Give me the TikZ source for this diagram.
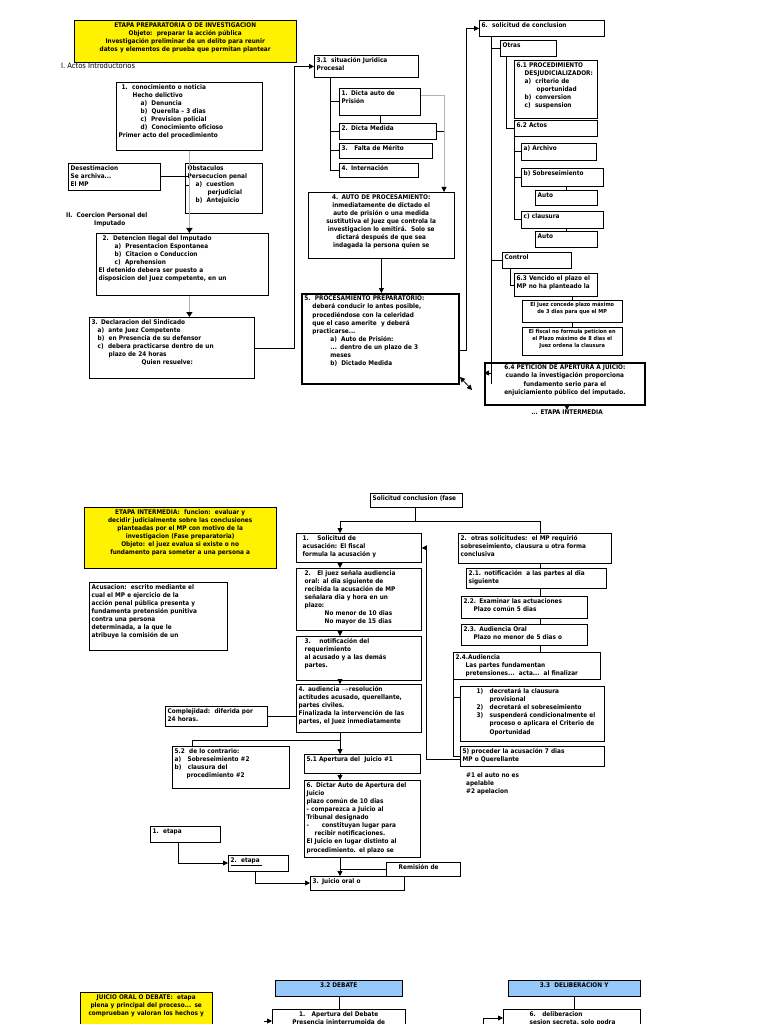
\documentclass[tikz,border=0pt]{standalone}
\usepackage{fontspec}
\setmainfont{DejaVu Sans Condensed}
\usetikzlibrary{arrows.meta,calc}
\tikzset{
 box/.style={draw,line width=0.8pt,inner sep=0pt},
 txt/.style={inner sep=0pt,align=left,font=\fontsize{6.4}{8.1}\selectfont\bfseries},
 yel/.style={fill=yellow},
 blu/.style={fill={rgb,255:red,150;green,200;blue,250}},
 thk/.style={line width=1.8pt},
 cen/.style={align=center},
 sml/.style={font=\fontsize{5.5}{7}\selectfont\bfseries},
 ln/.style={line width=0.8pt},
 arr/.style={line width=0.8pt,-{Triangle[length=5pt,width=5pt]}},
 garr/.style={line width=1.6pt,gray!60,-{Triangle[length=5pt,width=6pt,black]}},
 gln/.style={line width=1.6pt,gray!60},
}
\newcommand\bx[7][]{%
 \node[box,#1,minimum width={#5-#3},minimum height={#6-#4},anchor=north west] (#2) at (#3,#4) {};
 \pgfmathsetmacro\bxw{#5-#3-5}%
 \begin{scope}\clip (#3,#4) rectangle (#5,#6);
 \node[txt,#1,draw=none,text width=\bxw pt,anchor=north west] at ([xshift=2.5pt,yshift=-2.2pt]#2.north west) {#7};
 \end{scope}}
\newcommand\ind[1]{\hspace*{#1pt}}
\begin{document}
\begin{tikzpicture}[x=1pt,y=-1pt]
\useasboundingbox[fill=white] (0,0) rectangle (768,1024);
% ===== TOP =====
\bx[yel,cen]{yA}{74}{20}{296}{62}{ETAPA PREPARATORIA O DE INVESTIGACION\\Objeto:\ \ preparar la acción pública\\Investigación preliminar de un delito para reunir\\datos y elementos de prueba que permitan plantear}
\node[txt,font=\fontsize{7.5}{9}\selectfont,anchor=north west] (tAI) at (61,63) {I. Actos Introductorios};
\bx{b1}{116}{82}{262}{150}{\ind{3}1.\ \ conocimiento o noticia\\\ind{14}Hecho delictivo\\\ind{22}a)\ \ Denuncia\\\ind{22}b)\ \ Querella – 3 dias\\\ind{22}c)\ \ Prevision policial\\\ind{22}d)\ \ Conocimiento oficioso\\Primer acto del procedimiento}
\bx{bDes}{68}{163}{160}{190}{Desestimacion\\Se archiva...\\El MP}
\bx{bObs}{185}{163}{262}{213}{Obstaculos\\Persecucion penal\\\ind{8}a)\ \ cuestion\\\ind{20}perjudicial\\\ind{8}b)\ \ Antejuicio}
\node[txt,anchor=north west] (tII) at (64,212) {\ind{2}II.\ \ Coercion Personal del\\\ind{30}Imputado};
\bx{b2}{96}{233}{268}{295}{\ind{4}2.\ \ Detencion Ilegal del Imputado\\\ind{16}a)\ \ Presentacion Espontanea\\\ind{16}b)\ \ Citacion o Conduccion\\\ind{16}c)\ \ Aprehension\\El detenido debera ser puesto a\\disposicion del Juez competente, en un}
\bx{b3}{89}{317}{254}{378}{3. Declaracion del Sindicado\\\ind{6}a)\ \ ante Juez Competente\\\ind{6}b)\ \ en Presencia de su defensor\\\ind{6}c)\ \ debera practicarse dentro de un\\\ind{17}plazo de 24 horas\\\ind{50}Quien resuelve:}
\draw[gln] (b1.south) -- (bDes.east -| b1.south);
\draw[garr] (bDes.east -| b1.south) -- (b2.north -| b1.south);
\draw[ln] (bDes.east) -- (bDes.east -| b1.south);
\draw[ln] ($(bObs.west)+(0,-3)$) -- ($(bObs.west -| b1.south)+(0,-3)$);
\draw[garr] (b2.south -| b1.south) -- (b3.north -| b1.south);
% middle column
\bx{b31}{314}{55}{418}{77}{3.1\ \ situación Juridica\\Procesal}
\bx{bD1}{339}{88}{420}{115}{1. Dicta auto de\\Prisión}
\bx{bD2}{339}{123}{436}{139}{2. Dicta Medida}
\bx{bD3}{339}{143}{432}{158}{3.\ \ \ Falta de Mérito}
\bx{bD4}{339}{163}{418}{177}{4. Internación}
\bx[cen]{b4}{308}{192}{454}{258}{4. AUTO DE PROCESAMIENTO:\\inmediatamente de dictado el\\auto de prisión o una medida\\sustitutiva el Juez que controla la\\investigacion lo emitirá.\ \ Solo se\\dictará después de que sea\\indagada la persona quien se}
\bx[thk]{b5}{301}{293}{458}{383}{5.\ \ PROCESAMIENTO PREPARATORIO:\\\ind{8}deberá conducir lo antes posible,\\\ind{8}procediéndose con la celeridad\\\ind{8}que el caso amerite\ \ y deberá\\\ind{8}practicarse...\\\ind{26}a)\ \ Auto de Prisión:\\\ind{26}... dentro de un plazo de 3\\\ind{26}meses\\\ind{26}b)\ \ Dictado Medida}
\coordinate (c3a) at (294,348);
\draw[ln] (b3.east |- c3a) -- (c3a) -- (c3a |- b31.west);
\draw[arr] (c3a |- b31.west) -- (b31.west);
\coordinate (c31) at (330,77);
\draw[ln] (c31) -- (c31 |- bD4.west) -- (bD4.west);
\draw[ln] (c31 |- bD1.west) -- (bD1.west);
\draw[ln] (c31 |- bD2.west) -- (bD2.west);
\draw[ln] (c31 |- bD3.west) -- (bD3.west);
\draw[ln] (bD1.south) -- (bD2.north -| bD1.south);
\coordinate (cD) at (444,95);
\draw[gray!60,line width=0.8pt] (bD1.east |- cD) -- (cD);
\draw[gray!60,line width=0.8pt,-{Triangle[length=5pt,width=5pt,black]}] (cD) -- (cD |- b4.north);
\draw[ln] (bD2.east) -- (bD2.east -| cD);
\draw[arr] (b4.south) -- (b5.north -| b4.south);
% right column
\bx{b6}{479}{20}{604}{36}{6.\ \ solicitud de conclusion}
\coordinate (c5) at (466,350);
\draw[ln] (b5.east |- c5) -- (c5) -- (c5 |- b6.west);
\draw[arr] (c5 |- b6.west) -- (b6.west);
\draw[{Triangle[length=5pt,width=5pt]}-{Triangle[length=5pt,width=5pt]},line width=0.8pt] (460,377) -- (472,390);
\bx{bOt}{500}{40}{556}{56}{Otras}
\bx{b61}{514}{60}{597}{118}{6.1 PROCEDIMIENTO\\\ind{8}DESJUDICIALIZADOR:\\\ind{8}a)\ \ criterio de\\\ind{20}oportunidad\\\ind{8}b)\ \ conversion\\\ind{8}c)\ \ suspension}
\bx{b62}{514}{120}{597}{136}{6.2 Actos}
\bx{bAr}{521}{143}{596}{160}{a) Archivo}
\bx{bSo}{521}{168}{603}{186}{b) Sobreseimiento}
\bx{bAu1}{535}{190}{597}{205}{Auto}
\bx{bCl}{521}{211}{603}{228}{c) clausura}
\bx{bAu2}{535}{231}{597}{247}{Auto}
\bx{bCo}{502}{252}{571}{268}{Control}
\bx{b63}{514}{273}{597}{296}{6.3 Vencido el plazo el\\MP no ha planteado la}
\bx[cen,sml]{bJc}{522}{300}{622}{322}{El Juez concede plazo máximo\\de 3 dias para que el MP}
\bx[cen,sml]{bFi}{522}{327}{622}{355}{El fiscal no formula peticion en\\el Plazo máximo de 8 dias el\\Juez ordena la clausura}
\bx[thk,cen]{b64}{484}{362}{644}{404}{6.4 PETICION DE APERTURA A JUICIO:\\cuando la investigación proporciona\\fundamento serio para el\\enjuiciamiento público del imputado.}
\node[txt,anchor=north] (tEI) at (567,410) {... ETAPA INTERMEDIA};
\draw[arr] (b64.south -| tEI) -- (tEI.north);
\coordinate (c6) at (491,36);
\draw[ln] (c6) -- (c6 |- b64.west);
\draw[arr] (491,373) -- (b64.west |- 0,373);
\draw[ln] (c6 |- bOt.west) -- (bOt.west);
\draw[ln] (c6 |- bCo.west) -- (bCo.west);
\coordinate (cOt) at (506,56);
\draw[ln] (cOt) -- (cOt |- b62.west) -- (b62.west);
\coordinate (c62) at (514,136);
\draw[ln] (c62) -- (c62 |- bCl.west) -- (bCl.west);
\draw[ln] (c62 |- bAr.west) -- (bAr.west);
\draw[ln] (c62 |- bSo.west) -- (bSo.west);
\draw[ln] (bSo.south -| bAu1.north) -- (bAu1.north);
\draw[ln] (bCl.south -| bAu2.north) -- (bAu2.north);
\coordinate (cCo) at (510,268);
\draw[ln] (cCo) -- (cCo |- b63.west) -- (b63.west);
\draw[ln] (b63.south -| bJc.north) -- (bJc.north);
\draw[ln] (bJc.south) -- (bFi.north);
% ===== MIDDLE =====
\bx[yel,cen]{yB}{84}{507}{276}{568}{ETAPA INTERMEDIA:\ \ funcion:\ \ evaluar y\\decidir judicialmente sobre las conclusiones\\planteadas por el MP con motivo de la\\investigacion (Fase preparatoria)\\Objeto: el juez evalua si existe o no\\fundamento para someter a una persona a}
\bx{bAc}{89}{582}{227}{650}{Acusacion:\ \ escrito mediante el\\cual el MP e ejercicio de la\\acción penal pública presenta y\\fundamenta pretensión punitiva\\contra una persona\\determinada, a la que le\\atribuye la comisión de un}
\bx{bSc}{370}{493}{462}{507}{Solicitud conclusion (fase}
\bx{m1}{296}{533}{421}{562}{\ind{4}1.\ \ \ \ Solicitud de\\\ind{4}acusación: El fiscal\\\ind{4}formula la acusación y}
\bx{m2}{296}{568}{421}{630}{\ind{6}2.\ \ \ El juez señala audiencia\\\ind{6}oral: al dia siguiente de\\\ind{6}recibida la acusación de MP\\\ind{6}señalara dia y hora en un\\\ind{6}plazo:\\\ind{26}No menor de 10 dias\\\ind{26}No mayor de 15 dias}
\bx{m3}{296}{636}{421}{680}{\ind{6}3.\ \ \ \ notificación del\\\ind{6}requerimiento\\\ind{6}al acusado y a las demás\\\ind{6}partes.}
\bx{m4}{296}{684}{421}{732}{4. audiencia $\rightarrow$resolución\\actitudes acusado, querellante,\\partes civiles.\\Finalizada la intervención de las\\partes, el Juez inmediatamente}
\bx{mCo}{165}{706}{267}{726}{Complejidad:\ \ diferida por\\24 horas.}
\bx{m52}{172}{746}{289}{788}{5.2\ \ de lo contrario:\\a)\ \ \ Sobreseimiento \#2\\b)\ \ \ clausura del\\\ind{12}procedimiento \#2}
\bx{m51}{304}{754}{420}{773}{5.1 Apertura del\ \ Juicio \#1}
\bx{m6}{304}{780}{420}{857}{6. Dictar Auto de Apertura del\\Juicio\\plazo común de 10 dias\\- comparezca a Juicio al\\Tribunal designado\\-\ \ \ \ \ \ constituyan lugar para\\\ind{8}recibir notificaciones.\\El Juicio en lugar distinto al\\procedimiento. el plazo se}
\bx{mRe}{386}{862}{460}{876}{\ind{10}Remisión de}
\bx{mJo}{310}{876}{404}{890}{3. Juicio oral o}
\bx{mE1}{150}{826}{220}{842}{1.\ \ etapa}
\bx{mE2}{228}{855}{288}{871}{\underline{2.\ \ etapa\ }}
\bx{r2}{458}{533}{611}{563}{2.\ \ otras solicitudes:\ \ el MP requirió\\sobreseimiento, clausura u otra forma\\conclusiva}
\bx{r21}{466}{568}{606}{588}{2.1. notificación\ \ a las partes al dia\\siguiente}
\bx{r22}{461}{596}{587}{618}{2.2. Examinar las actuaciones\\\ind{10}Plazo común 5 dias}
\bx{r23}{461}{624}{587}{645}{2.3. Audiencia Oral\\\ind{10}Plazo no menor de 5 dias o}
\bx{r24}{453}{652}{600}{679}{2.4.Audiencia\\\ind{10}Las partes fundamentan\\\ind{10}pretensiones...\ \ acta...\ \ al finalizar}
\bx{rL}{460}{686}{604}{741}{\ind{14}1)\ \ \ decretará la clausura\\\ind{27}provisional\\\ind{14}2)\ \ \ decretará el sobreseimiento\\\ind{14}3)\ \ \ suspenderá condicionalmente el\\\ind{27}proceso o aplicara el Criterio de\\\ind{27}Oportunidad}
\bx{r5}{460}{746}{604}{766}{5) proceder la acusación 7 dias\\MP o Querellante}
\node[txt,anchor=north west] (tNo) at (466,772) {\#1 el auto no es\\apelable\\\#2 apelacion};
% middle connectors
\coordinate (cS) at (415,521);
\draw[ln] (bSc.south -| cS) -- (cS);
\draw[ln] (340,521) -- (540,521);
\draw[arr] (340,521) -- (m1.north -| 340,0);
\draw[ln] (540,521) -- (r2.north -| 540,0);
\draw[arr] (m1.south -| 340,0) -- (m2.north -| 340,0);
\draw[arr] (m2.south -| 340,0) -- (m3.north -| 340,0);
\draw[arr] (m3.south -| 340,0) -- (m4.north -| 340,0);
\draw[ln] (mCo.east) -- (mCo.east -| m4.west);
\draw[ln] (m4.south -| 340,0) -- (340,740);
\draw[arr] (340,740) -- (m51.north -| 340,0);
\draw[ln] (m52.north -| 192,0) -- (192,740) -- (340,740);
\draw[arr] (m51.south -| 340,0) -- (m6.north -| 340,0);
\draw[arr] (m6.south -| 340,0) -- (mJo.north -| 340,0);
\draw[ln] (mRe.west) -- (mRe.west -| 340,0);
\draw[ln] (mE1.south -| 178,0) -- (178,863);
\draw[arr] (178,863) -- (mE2.west |- 0,863);
\draw[ln] (mE2.south -| 255,0) -- (255,883);
\draw[arr] (255,883) -- (mJo.west |- 0,883);
\draw[ln] (r2.south -| 540,0) -- (r21.north -| 540,0);
\draw[ln] (r21.south -| 540,0) -- (r22.north -| 540,0);
\draw[ln] (r22.south -| 540,0) -- (r23.north -| 540,0);
\draw[ln] (r23.south -| 540,0) -- (r24.north -| 540,0);
\coordinate (c24) at (453,679);
\draw[ln] (c24) -- (c24 |- r5.west) -- (r5.west);
\draw[ln] (c24 |- 0,697) -- (rL.west |- 0,697);
\coordinate (cR) at (426,759);
\draw[ln] (r5.west |- cR) -- (cR) -- (cR |- m1.east);
\draw[arr] (cR |- m1.east) -- (m1.east);
% ===== BOTTOM =====
\bx[yel,cen]{yC}{80}{992}{212}{1030}{JUICIO ORAL O DEBATE:\ \ etapa\\plena y principal del proceso... se\\comprueban y valoran los hechos y}
\bx[blu,cen]{bDe}{275}{980}{402}{996}{3.2 DEBATE}
\bx[cen]{bAp}{272}{1009}{405}{1040}{1.\ \ \ Apertura del Debate\\Presencia ininterrumpida de}
\bx[blu,cen]{bDl}{508}{980}{640}{996}{3.3\ \ DELIBERACION Y}
\bx{bDb}{503}{1009}{640}{1040}{\ind{24}6.\ \ \ deliberacion\\\ind{24}sesion secreta, solo podra}
\draw[ln] (bDe.south) -- (bAp.north -| bDe.south);
\draw[ln] (bDl.south) -- (bDb.north -| bDl.south);
\coordinate (cA) at (264,1021);
\draw[arr] (cA) -- (bAp.west |- cA);
\coordinate (cB) at (483,1030);
\draw[ln] (cB) -- (483,1018);
\draw[arr] (483,1018) -- (bDb.west |- 0,1018);
\end{tikzpicture}
\end{document}
